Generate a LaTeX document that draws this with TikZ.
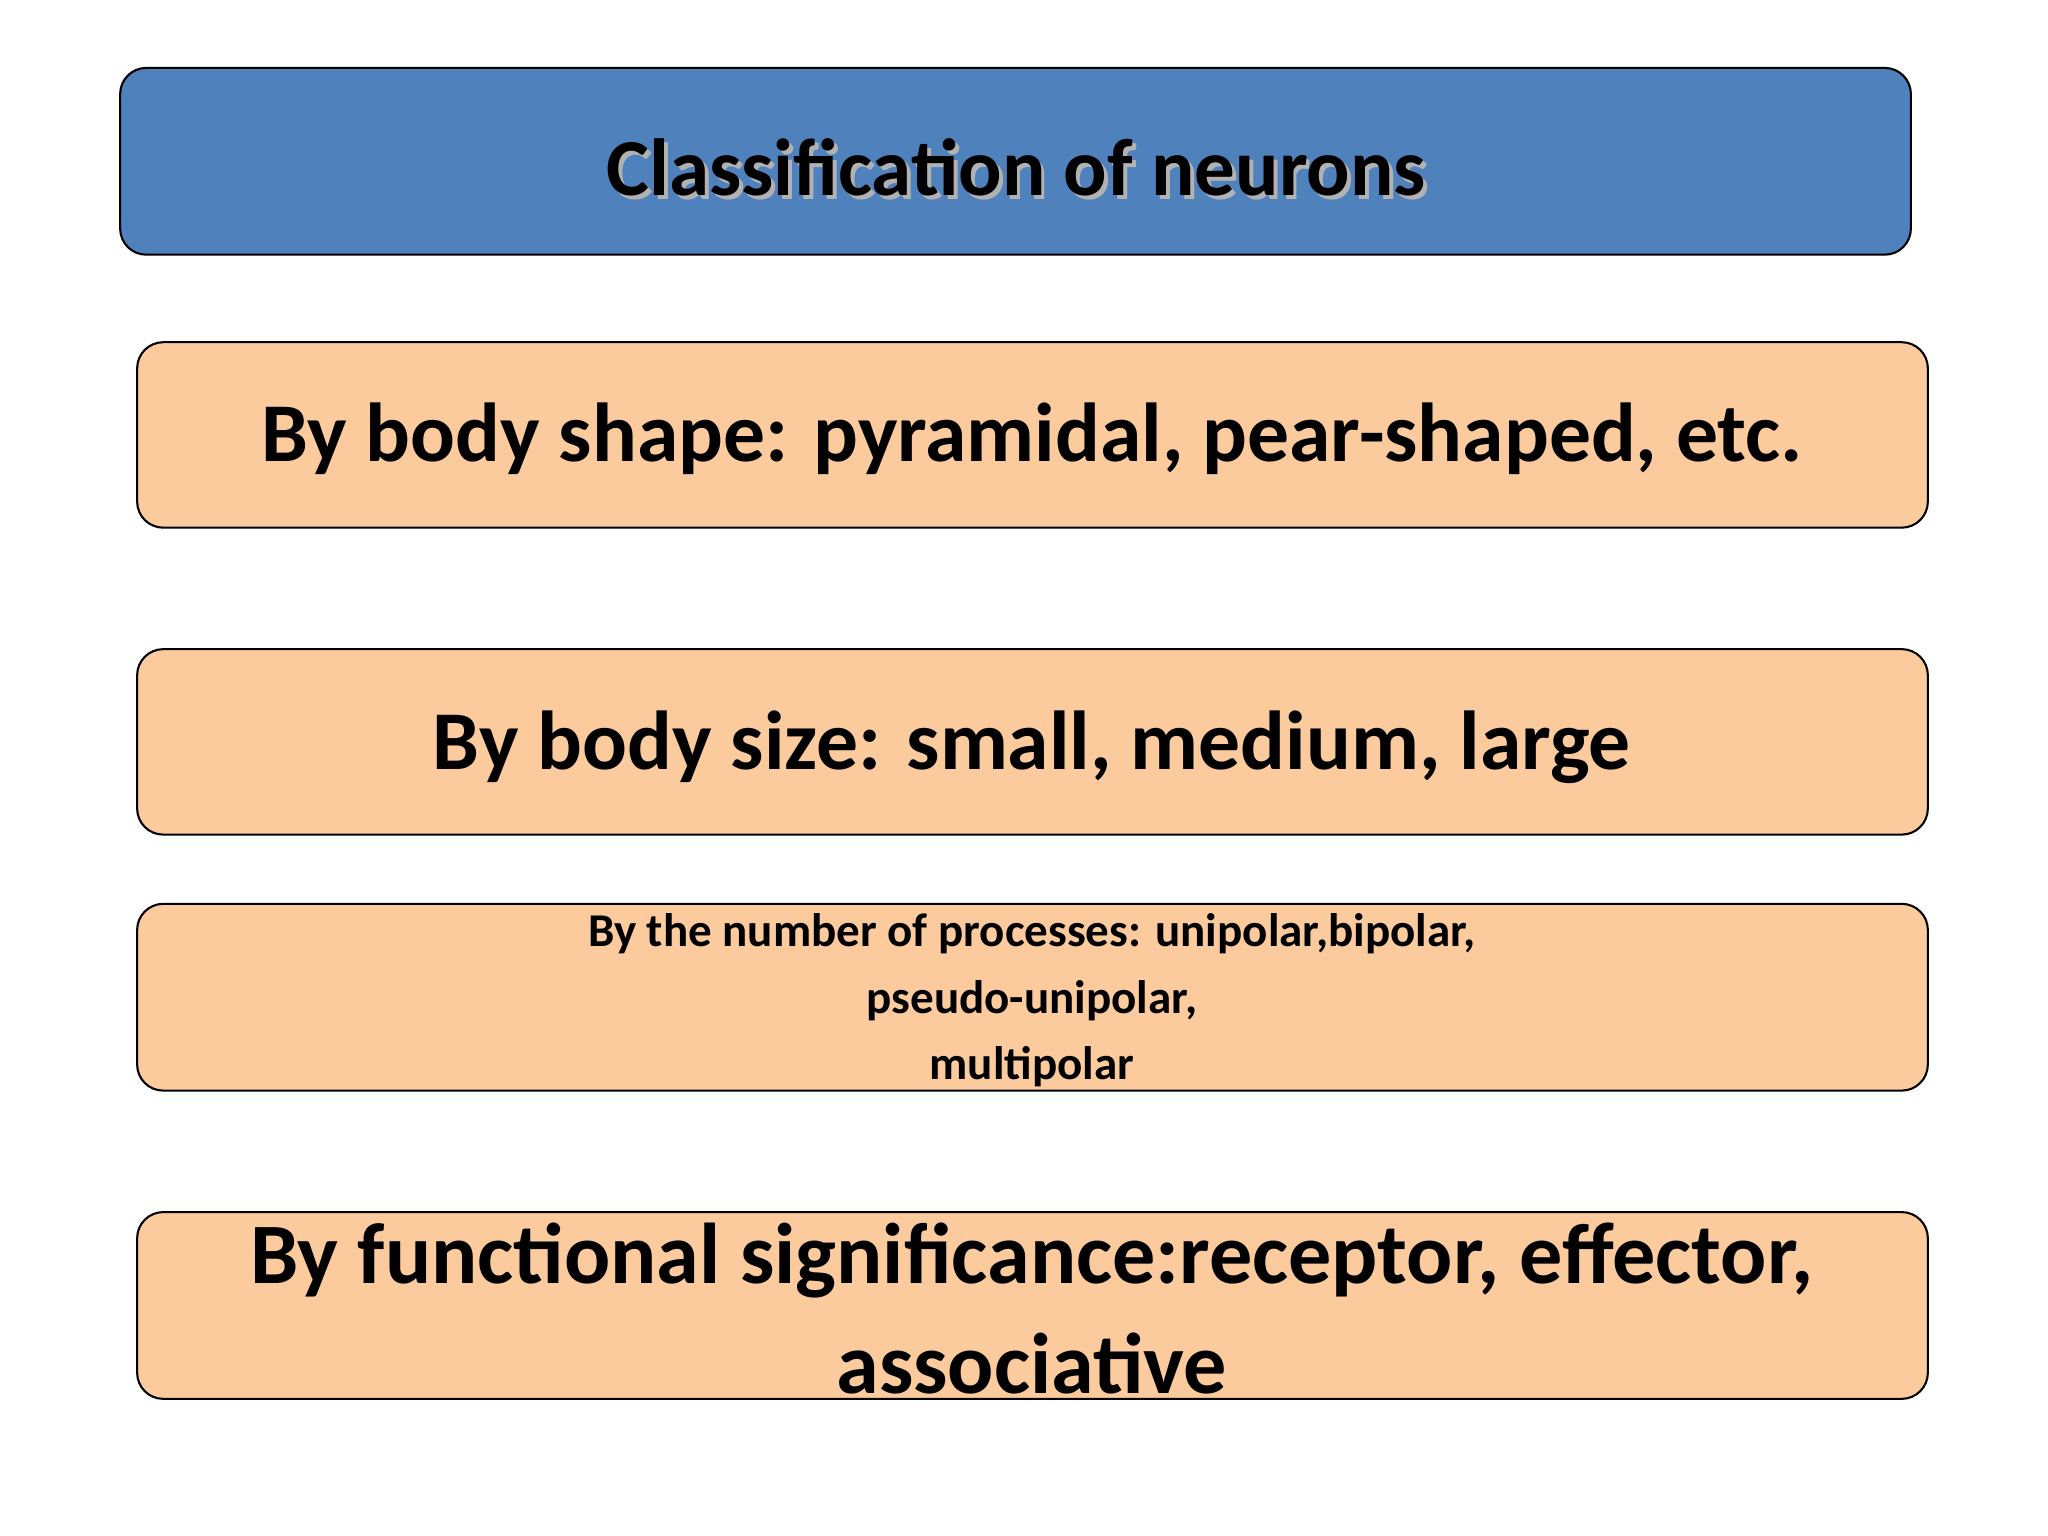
\documentclass[tikz,border=0pt]{standalone}
\usepackage{fontspec}
\setmainfont{Carlito}
\definecolor{titleblue}{HTML}{4F81BD}
\definecolor{peach}{HTML}{FCCB9D}
\begin{document}
\begin{tikzpicture}[x=0.5pt,y=-0.5pt,
  box/.style={draw=black,line width=0.8pt,rounded corners=10pt,fill=peach},
  txt/.style={font=\bfseries,inner sep=0pt,align=center}]
\useasboundingbox (0,0) rectangle (1568,1176);
\fill[white] (0,0) rectangle (1568,1176);
\draw[box,fill=titleblue] (92,52) rectangle (1463,195);
\node[txt,text=gray!60,font=\bfseries\fontsize{31}{36}\selectfont] at (781,131) {Classification of neurons};
\node[txt,font=\bfseries\fontsize{31}{36}\selectfont] (t) at (778,128) {Classification of neurons};
\draw[box] (105,262) rectangle (1476,404);
\node[txt,font=\bfseries\fontsize{32}{38}\selectfont] (a) at (790,336) {By body shape: pyramidal, pear-shaped, etc.};
\draw[box] (105,497) rectangle (1476,639);
\node[txt,font=\bfseries\fontsize{32}{38}\selectfont] (b) at (790,572) {By body size: small, medium, large};
\draw[box] (105,692) rectangle (1476,835);
\node[txt,font=\bfseries\fontsize{18}{25.5}\selectfont] (c) at (790,766) {By the number of processes: unipolar,bipolar,\\pseudo-unipolar,\\multipolar};
\draw[box] (105,928) rectangle (1476,1071);
\node[txt,font=\bfseries\fontsize{33}{42}\selectfont] (d) at (790,1002) {By functional significance:receptor, effector,\\associative};
\end{tikzpicture}
\end{document}
